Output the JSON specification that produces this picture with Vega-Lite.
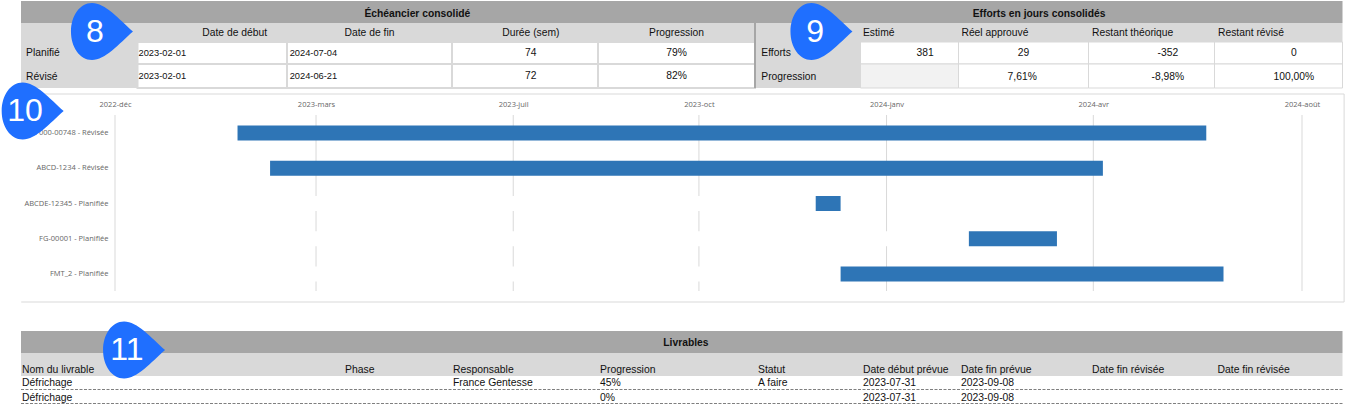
{
"$schema":"https://vega.github.io/schema/vega-lite/v6.json",
"padding":0,"spacing":0,"bounds":"flush",
"config":{"view":{"stroke":null},"text":{"font":"Liberation Sans","fontSize":10.3,"color":"#111111"}},
"datasets":{
"topBands":[
{"c0":0,"c1":10,"r0":0,"r1":1,"kind":"title"},
{"c0":0,"c1":10,"r0":1,"r1":2,"kind":"header"},
{"c0":0,"c1":1,"r0":2,"r1":4,"kind":"header"},
{"c0":5,"c1":6,"r0":2,"r1":4,"kind":"header"}],
"topCells":[
{"c0":1,"c1":2,"r0":2,"r1":3,"kind":"cell","table":"Echeancier"},
{"c0":2,"c1":3,"r0":2,"r1":3,"kind":"cell","table":"Echeancier"},
{"c0":3,"c1":4,"r0":2,"r1":3,"kind":"cell","table":"Echeancier"},
{"c0":4,"c1":5,"r0":2,"r1":3,"kind":"cell","table":"Echeancier"},
{"c0":1,"c1":2,"r0":3,"r1":4,"kind":"cell","table":"Echeancier"},
{"c0":2,"c1":3,"r0":3,"r1":4,"kind":"cell","table":"Echeancier"},
{"c0":3,"c1":4,"r0":3,"r1":4,"kind":"cell","table":"Echeancier"},
{"c0":4,"c1":5,"r0":3,"r1":4,"kind":"cell","table":"Echeancier"},
{"c0":6,"c1":7,"r0":2,"r1":3,"kind":"cell","table":"Efforts"},
{"c0":7,"c1":8,"r0":2,"r1":3,"kind":"cell","table":"Efforts"},
{"c0":8,"c1":9,"r0":2,"r1":3,"kind":"cell","table":"Efforts"},
{"c0":9,"c1":10,"r0":2,"r1":3,"kind":"cell","table":"Efforts"},
{"c0":6,"c1":7,"r0":3,"r1":4,"kind":"empty","table":"Efforts"},
{"c0":7,"c1":8,"r0":3,"r1":4,"kind":"cell","table":"Efforts"},
{"c0":8,"c1":9,"r0":3,"r1":4,"kind":"cell","table":"Efforts"},
{"c0":9,"c1":10,"r0":3,"r1":4,"kind":"cell","table":"Efforts"}],
"topSep":[{"c":5,"r0":1,"r1":4}],
"topLeft":[
{"col":0.035,"row":2.5,"t":"Planifié"},{"col":0.035,"row":3.55,"t":"Révisé"},
{"col":5.05,"row":2.5,"t":"Efforts"},{"col":5.05,"row":3.55,"t":"Progression"},
{"col":6.015,"row":1.55,"t":"Estimé"},{"col":7.015,"row":1.55,"t":"Réel approuvé"},
{"col":8.02,"row":1.55,"t":"Restant théorique"},{"col":9.02,"row":1.55,"t":"Restant révisé"}],
"topDates":[
{"col":1,"row":2.5,"t":"2023-02-01"},{"col":2.01,"row":2.5,"t":"2024-07-04"},
{"col":1,"row":3.5,"t":"2023-02-01"},{"col":2.01,"row":3.5,"t":"2024-06-21"}],
"topCenter":[
{"col":1.65,"row":1.55,"t":"Date de début"},{"col":2.5,"row":1.55,"t":"Date de fin"},
{"col":3.54,"row":1.55,"t":"Durée (sem)"},{"col":4.5,"row":1.55,"t":"Progression"},
{"col":3.54,"row":2.5,"t":"74"},{"col":3.54,"row":3.5,"t":"72"},
{"col":4.5,"row":2.5,"t":"79%"},{"col":4.5,"row":3.5,"t":"82%"},
{"col":6.66,"row":2.5,"t":"381"},{"col":7.5,"row":2.5,"t":"29"},
{"col":8.63,"row":2.5,"t":"-352"},{"col":9.62,"row":2.5,"t":"0"},
{"col":7.49,"row":3.55,"t":"7,61%"},{"col":8.63,"row":3.55,"t":"-8,98%"},{"col":9.62,"row":3.55,"t":"100,00%"}],
"topTitles":[{"col":2.79,"row":0.58,"t":"Échéancier consolidé"},{"col":7.62,"row":0.58,"t":"Efforts en jours consolidés"}],
"topBadges":[{"col":0.695,"row":1.45,"lc":0.635,"t":"8"},{"col":5.63,"row":1.45,"lc":5.57,"t":"9"}],
"ganttLines":[
{"a":"2022-10-11","b":"2024-09-01","l0":0,"l1":0},
{"a":"2022-10-11","b":"2024-09-01","l0":3,"l1":3},
{"a":"2024-09-01","b":"2024-09-01","l0":0,"l1":3},
{"a":"2022-11-29","b":"2022-11-29","l0":1,"l1":2},
{"a":"2023-03-14","b":"2023-03-14","l0":1,"l1":2},
{"a":"2023-06-25","b":"2023-06-25","l0":1,"l1":2},
{"a":"2023-09-30","b":"2023-09-30","l0":1,"l1":2},
{"a":"2024-01-06","b":"2024-01-06","l0":1,"l1":2},
{"a":"2024-04-23","b":"2024-04-23","l0":1,"l1":2},
{"a":"2024-08-10","b":"2024-08-10","l0":1,"l1":2}],
"tasks":[
{"task":"F000-00748 - Révisée","origin":"2022-11-30","start":"2023-02-01","end":"2024-06-21"},
{"task":"ABCD-1234 - Révisée","origin":"2022-11-30","start":"2023-02-18","end":"2024-04-28"},
{"task":"ABCDE-12345 - Planifiée","origin":"2022-11-30","start":"2023-11-30","end":"2023-12-13"},
{"task":"FG-00001 - Planifiée","origin":"2022-11-30","start":"2024-02-18","end":"2024-04-04"},
{"task":"FMT_2 - Planifiée","origin":"2022-11-30","start":"2023-12-13","end":"2024-06-30"}],
"ganttBadge":[{"d":"2022-10-17","ld":"2022-10-13","level":0.81,"t":"10"}],
"botBands":[
{"c0":0,"c1":9,"r0":0,"r1":1,"kind":"title"},
{"c0":0,"c1":9,"r0":1,"r1":2,"kind":"header"}],
"botDash":[{"c0":0,"c1":9,"r0":3},{"c0":0,"c1":9,"r0":4}],
"botText":[
{"col":0,"row":1.74,"t":"Nom du livrable"},{"col":1,"row":1.74,"t":"Phase"},{"col":2,"row":1.74,"t":"Responsable"},{"col":3,"row":1.74,"t":"Progression"},{"col":4,"row":1.74,"t":"Statut"},{"col":5,"row":1.74,"t":"Date début prévue"},{"col":6,"row":1.74,"t":"Date fin prévue"},{"col":7,"row":1.74,"t":"Date fin révisée"},{"col":8,"row":1.74,"t":"Date fin révisée"},
{"col":0,"row":2.55,"t":"Défrichage"},{"col":2,"row":2.55,"t":"France Gentesse"},{"col":3,"row":2.55,"t":"45%"},{"col":4,"row":2.55,"t":"A faire"},{"col":5,"row":2.55,"t":"2023-07-31"},{"col":6,"row":2.55,"t":"2023-09-08"},
{"col":0,"row":3.6,"t":"Défrichage"},{"col":3,"row":3.6,"t":"0%"},{"col":5,"row":3.6,"t":"2023-07-31"},{"col":6,"row":3.6,"t":"2023-09-08"}],
"botTitle":[{"col":3.55,"row":0.55,"t":"Livrables"}],
"botBadge":[{"col":0.35,"row":0.864,"lc":0.328,"t":"11"}]
},
"vconcat":[
{"width":1348,"height":94,
"layer":[
{"data":{"name":"topBands"},"mark":{"type":"rect"},
"encoding":{"x":{"field":"c0","type":"quantitative","axis":null,"scale":{"domain":[0,1,2,3,4,5,6,7,8,9,10],"range":[21,137.5,287,452,598,755,860.5,958.5,1088.5,1214.5,1342.5]}},"x2":{"field":"c1"},
"y":{"field":"r0","type":"quantitative","axis":null,"scale":{"domain":[0,1,2,3,4],"range":[1,23,42,64,88]}},"y2":{"field":"r1"},
"color":{"field":"kind","type":"nominal","legend":null,"scale":{"domain":["title","header","cell","empty"],"range":["#a6a6a6","#d9d9d9","#ffffff","#f2f2f2"]}}}},
{"data":{"name":"topCells"},"mark":{"type":"rect","stroke":"#d9d9d9"},
"encoding":{"x":{"field":"c0","type":"quantitative","axis":null},"x2":{"field":"c1"},
"y":{"field":"r0","type":"quantitative","axis":null},"y2":{"field":"r1"},
"color":{"field":"kind","type":"nominal","legend":null},
"strokeWidth":{"field":"table","type":"nominal","legend":null,"scale":{"domain":["Echeancier","Efforts"],"range":[2,1]}}}},
{"data":{"name":"topSep"},"mark":{"type":"rule","color":"#a6a6a6","strokeWidth":2},
"encoding":{"x":{"field":"c","type":"quantitative","axis":null},"y":{"field":"r0","type":"quantitative","axis":null},"y2":{"field":"r1"}}},
{"data":{"name":"topLeft"},"mark":{"type":"text","align":"left","dx":1},
"encoding":{"x":{"field":"col","type":"quantitative","axis":null},"y":{"field":"row","type":"quantitative","axis":null},"text":{"field":"t"}}},
{"data":{"name":"topDates"},"mark":{"type":"text","align":"left","dx":1,"fontSize":9.3},
"encoding":{"x":{"field":"col","type":"quantitative","axis":null},"y":{"field":"row","type":"quantitative","axis":null},"text":{"field":"t"}}},
{"data":{"name":"topCenter"},"mark":{"type":"text","align":"center"},
"encoding":{"x":{"field":"col","type":"quantitative","axis":null},"y":{"field":"row","type":"quantitative","axis":null},"text":{"field":"t"}}},
{"data":{"name":"topTitles"},"mark":{"type":"text","align":"center","fontWeight":"bold"},
"encoding":{"x":{"field":"col","type":"quantitative","axis":null},"y":{"field":"row","type":"quantitative","axis":null},"text":{"field":"t"}}},
{"data":{"name":"topBadges"},"mark":{"type":"point","filled":true,"opacity":1,"color":"#1f6fff","size":3844,"shape":"M1 0 C0.55 -0.4 0.1 -0.92 -0.32 -0.92 C-0.72 -0.92 -1 -0.5 -1 0 C-1 0.5 -0.72 0.92 -0.32 0.92 C0.1 0.92 0.55 0.4 1 0 Z"},
"encoding":{"x":{"field":"col","type":"quantitative","axis":null},"y":{"field":"row","type":"quantitative","axis":null}}},
{"data":{"name":"topBadges"},"mark":{"type":"text","align":"center","color":"#ffffff","fontSize":32},
"encoding":{"x":{"field":"lc","type":"quantitative","axis":null},"y":{"field":"row","type":"quantitative","axis":null},"text":{"field":"t"}}}
]},
{"width":1348,"height":209,
"resolve":{"scale":{"y":"independent"},"axis":{"x":"independent"}},
"layer":[
{"data":{"name":"ganttLines"},"mark":{"type":"rule","color":"#d9d9d9","strokeWidth":1},
"encoding":{"x":{"field":"a","type":"temporal","title":null,"scale":{"domain":[{"year":2022,"month":11,"date":29},{"year":2024,"month":8,"date":10}],"range":[115,1302]},"axis":{"orient":"top","offset":-14,"domain":false,"ticks":false,"grid":false,"labelPadding":0,"labelFont":"Open Sans","labelFontSize":7.5,"labelColor":"#666666","labelBound":false,"labelOverlap":false,"labelFlush":false,"title":null,"values":[{"year":2022,"month":11,"date":29},{"year":2023,"month":3,"date":14},{"year":2023,"month":6,"date":25},{"year":2023,"month":9,"date":30},{"year":2024,"month":1,"date":6},{"year":2024,"month":4,"date":23},{"year":2024,"month":8,"date":10}],"labelExpr":"{'202211':'2022-déc','202303':'2023-mars','202306':'2023-juil','202309':'2023-oct','202401':'2024-janv','202404':'2024-avr','202408':'2024-août'}[timeFormat(datum.value,'%Y%m')]"}},"x2":{"field":"b"},
"y":{"field":"l0","type":"quantitative","axis":null,"scale":{"domain":[0,1,2,3],"range":[0,21,197,208]}},"y2":{"field":"l1"}}},
{"data":{"name":"tasks"},"mark":{"type":"bar","color":"#ffffff"},
"encoding":{"x":{"field":"origin","type":"temporal","axis":null},"x2":{"field":"start"},
"y":{"field":"task","type":"nominal","sort":null,"axis":null,"scale":{"range":[21.5,197.5],"paddingInner":0.574,"paddingOuter":0.287}}}},
{"data":{"name":"tasks"},"mark":{"type":"bar","color":"#2e75b6"},
"encoding":{"x":{"field":"start","type":"temporal","axis":null},"x2":{"field":"end"},
"y":{"field":"task","type":"nominal","sort":null,"title":null,"scale":{"range":[21.5,197.5],"paddingInner":0.574,"paddingOuter":0.287},"axis":{"orient":"left","offset":-108,"domain":false,"ticks":false,"grid":false,"labelPadding":0,"labelFont":"Open Sans","labelFontSize":7.5,"labelColor":"#666666","title":null}}}},
{"data":{"name":"ganttBadge"},"mark":{"type":"point","filled":true,"opacity":1,"color":"#1f6fff","size":3844,"shape":"M1 0 C0.55 -0.4 0.1 -0.92 -0.32 -0.92 C-0.72 -0.92 -1 -0.5 -1 0 C-1 0.5 -0.72 0.92 -0.32 0.92 C0.1 0.92 0.55 0.4 1 0 Z"},
"encoding":{"x":{"field":"d","type":"temporal","axis":null},"y":{"field":"level","type":"quantitative","axis":null,"scale":{"domain":[0,1,2,3],"range":[0,21,197,208]}}}},
{"data":{"name":"ganttBadge"},"mark":{"type":"text","align":"center","color":"#ffffff","fontSize":32},
"encoding":{"x":{"field":"ld","type":"temporal","axis":null},"y":{"field":"level","type":"quantitative","axis":null,"scale":{"domain":[0,1,2,3],"range":[0,21,197,208]}},"text":{"field":"t"}}}
]},
{"width":1348,"height":109,
"layer":[
{"data":{"name":"botBands"},"mark":{"type":"rect"},
"encoding":{"x":{"field":"c0","type":"quantitative","axis":null,"scale":{"domain":[0,1,2,3,4,5,6,7,8,9],"range":[21,344,452,599,757,862,960,1091,1216.5,1342.5]}},"x2":{"field":"c1"},
"y":{"field":"r0","type":"quantitative","axis":null,"scale":{"domain":[0,1,2,3,4],"range":[28,50,73,86.5,100.5]}},"y2":{"field":"r1"},
"color":{"field":"kind","type":"nominal","legend":null,"scale":{"domain":["title","header"],"range":["#a6a6a6","#d9d9d9"]}}}},
{"data":{"name":"botDash"},"mark":{"type":"rule","color":"#7f7f7f","strokeDash":[3,1.5],"strokeWidth":1},
"encoding":{"x":{"field":"c0","type":"quantitative","axis":null},"x2":{"field":"c1"},"y":{"field":"r0","type":"quantitative","axis":null}}},
{"data":{"name":"botText"},"mark":{"type":"text","align":"left","dx":1,"fontSize":10.4},
"encoding":{"x":{"field":"col","type":"quantitative","axis":null},"y":{"field":"row","type":"quantitative","axis":null},"text":{"field":"t"}}},
{"data":{"name":"botTitle"},"mark":{"type":"text","align":"center","fontWeight":"bold"},
"encoding":{"x":{"field":"col","type":"quantitative","axis":null},"y":{"field":"row","type":"quantitative","axis":null},"text":{"field":"t"}}},
{"data":{"name":"botBadge"},"mark":{"type":"point","filled":true,"opacity":1,"color":"#1f6fff","size":3844,"shape":"M1 0 C0.55 -0.4 0.1 -0.92 -0.32 -0.92 C-0.72 -0.92 -1 -0.5 -1 0 C-1 0.5 -0.72 0.92 -0.32 0.92 C0.1 0.92 0.55 0.4 1 0 Z"},
"encoding":{"x":{"field":"col","type":"quantitative","axis":null},"y":{"field":"row","type":"quantitative","axis":null}}},
{"data":{"name":"botBadge"},"mark":{"type":"text","align":"center","color":"#ffffff","fontSize":32},
"encoding":{"x":{"field":"lc","type":"quantitative","axis":null},"y":{"field":"row","type":"quantitative","axis":null},"text":{"field":"t"}}}
]}
]
}
